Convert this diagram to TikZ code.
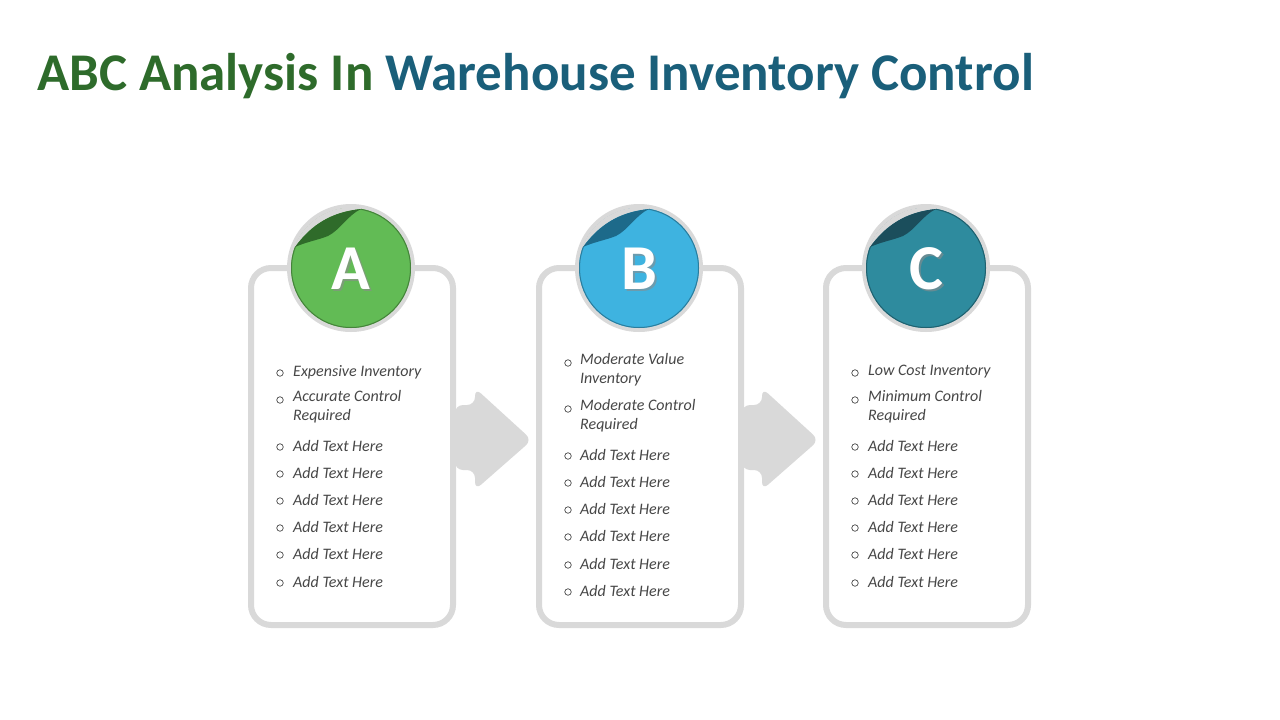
\documentclass[tikz,border=0pt]{standalone}
\usepackage{fontspec}
\setmainfont{Carlito}
\begin{document}
\begin{tikzpicture}[x=1pt,y=-1pt,
  panel/.style={draw=black!15,line width=6pt,fill=white,rounded corners=20pt},
  itm/.style={anchor=west,font=\fontsize{16}{19.5}\selectfont\itshape,text=black!72,inner sep=0pt,align=left},
  bul/.style={draw=black!72,line width=0.7pt,circle,inner sep=0pt,minimum size=6.5pt},
  ltr/.style={text=white,font=\fontsize{64}{66}\selectfont\bfseries}]
\useasboundingbox (0,0) rectangle (1280,720);
\definecolor{tg}{HTML}{2E6B2B}\definecolor{tb}{HTML}{1A5F7A}
\definecolor{ca}{HTML}{62BB55}\definecolor{pa}{HTML}{2F6B2A}
\definecolor{cb}{HTML}{3EB3E0}\definecolor{pb}{HTML}{1D6A8A}
\definecolor{cc}{HTML}{2E8B9E}\definecolor{pc}{HTML}{1B4E5C}
\node[anchor=west,inner sep=0pt,font=\fontsize{53}{56}\selectfont\bfseries] (title) at (37,76) {\textcolor{tg}{ABC Analysis In} \textcolor{tb}{Warehouse Inventory Control}};
% arrows
\foreach \x/\n in {455/ar1,742/ar2}{
  \fill[black!15,rounded corners=8pt] (\x,405) -- (\x+20,405) -- (\x+20,388) -- (\x+77,440) -- (\x+20,490) -- (\x+20,470) -- (\x,470) -- cycle;
}
\foreach \x/\c/\p/\L/\n in {248/ca/pa/A/a,536/cb/pb/B/b,823/cc/pc/C/c}{
  \draw[panel] (\x+3,268) rectangle (\x+205,625);
  \fill[black!15] (\x+103,268) circle (64);
  \fill[\c] (\x+103,268) circle (60);
  \draw[\c!70!black,line width=1pt] (\x+103,268) circle (59.5);
  \begin{scope}
    \clip (\x+103,268) circle (60.5);
    \fill[black!15] (\x+47,247) .. controls (\x+63,225) and (\x+83,212) .. (\x+113,209) -- (\x+113,200) -- (\x+40,200) -- (\x+40,247) -- cycle;
    \fill[\p] (\x+47,247) .. controls (\x+63,225) and (\x+83,212) .. (\x+113,209) .. controls (\x+100,215) and (\x+92,230) .. (\x+80,236) .. controls (\x+70,240) and (\x+58,242) .. (\x+47,247) -- cycle;
  \end{scope}
  \node[ltr,text=black!45,opacity=0.6] at (\x+105,271) {\L};
  \node[ltr] (\n L) at (\x+103,269) {\L};
}
% A and C lists
\foreach \x/\n/\la/\lb in {248/a/Expensive Inventory/{Accurate Control\\Required},823/c/Low Cost Inventory/{Minimum Control\\Required}}{
  \node[itm] (\n1) at (\x+45,372) {\la};
  \node[itm,anchor=north west] (\n2) at (\x+45,390) {\lb};
  \node[bul] at (\x+32,373) {};
  \node[bul] at (\x+32,400) {};
  \foreach \y [count=\i from 3] in {446,473,500,527,554,582}{
    \node[itm] (\n\i) at (\x+45,\y) {Add Text Here};
    \node[bul] at (\x+32,\y+1) {};
  }
}
\node[itm,anchor=north west] (b1) at (580,353) {Moderate Value\\Inventory};
\node[itm,anchor=north west] (b2) at (580,399) {Moderate Control\\Required};
\node[bul] at (568,363) {};
\node[bul] at (568,409) {};
\foreach \y [count=\i from 3] in {455,482,509,536,564,591}{
  \node[itm] (b\i) at (580,\y) {Add Text Here};
  \node[bul] at (568,\y+1) {};
}
\end{tikzpicture}
\end{document}
